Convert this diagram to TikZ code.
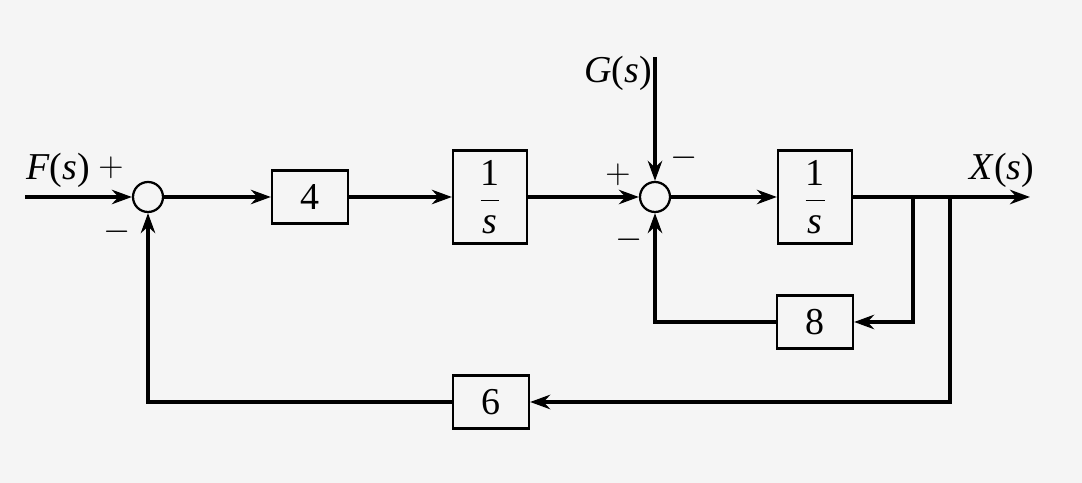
\documentclass[tikz,border=0pt]{standalone}
\usepackage{amsmath}
\usepackage{fontspec}
\setmainfont{Liberation Serif}
\usetikzlibrary{arrows.meta}
\begin{document}
\begin{tikzpicture}[
  blk/.style={rectangle, draw, line width=1.6pt, minimum width=1.9cm,
              minimum height=1.32cm, font=\fontsize{27}{30}\selectfont},
  intg/.style={blk, minimum width=1.85cm, minimum height=2.33cm},
  sumnode/.style={circle, draw, line width=1.6pt, minimum size=7.5mm, inner sep=0pt},
  lbl/.style={font=\fontsize{27}{30}\selectfont},
  arr/.style={-{Stealth[length=5mm, width=3.6mm]}, line width=2.5pt}
]
  \fill[gray!8] (0,0) rectangle (27.05,12.075);
  \useasboundingbox (0,0) rectangle (27.05,12.075);

  % Vorwaertszweig
  \coordinate (fin) at (0.625,7.15);
  \node[sumnode] (s1) at (3.7,7.15) {};
  \node[blk] (b4) at (7.75,7.15) {4};
  \node[intg] (i1) at (12.25,7.15) {$\dfrac{\text{1}}{\textit{s}}$};
  \node[sumnode] (s2) at (16.375,7.15) {};
  \node[intg] (i2) at (20.375,7.15) {$\dfrac{\text{1}}{\textit{s}}$};
  \coordinate (xout) at (25.75,7.15);
  \coordinate (gin) at (16.375,10.65);

  \draw[arr] (fin) -- (s1);
  \draw[arr] (s1) -- (b4);
  \draw[arr] (b4) -- (i1);
  \draw[arr] (i1) -- (s2);
  \draw[arr] (gin) -- (s2);
  \draw[arr] (s2) -- (i2);
  \draw[arr] (i2) -- (xout);

  % Rueckfuehrungen
  \node[blk] (b8) at (20.375,4.025) {8};
  \node[blk] (b6) at (12.275,2.025) {6};
  \coordinate (p1) at (22.825,7.15);
  \coordinate (p2) at (23.75,7.15);
  \draw[arr] (p1) |- (b8);
  \draw[arr] (b8) -| (s2);
  \draw[arr] (p2) |- (b6);
  \draw[arr] (b6) -| (s1);

  % Beschriftungen
  \node[lbl] (lf) at (1.45,7.825) {\textit{F}(\textit{s})};
  \node[lbl] (lg) at (15.45,10.25) {\textit{G}(\textit{s})};
  \node[lbl] (lx) at (25.05,7.825) {\textit{X}(\textit{s})};
  \foreach \x/\y/\s [count=\k] in {2.775/7.875/+, 2.925/6.275/-, 17.1/8.125/-,
                                   15.45/7.7/+, 15.725/6.075/-} {
    \node[lbl] (sg\k) at (\x,\y) {$\s$};
  }
\end{tikzpicture}
\end{document}
